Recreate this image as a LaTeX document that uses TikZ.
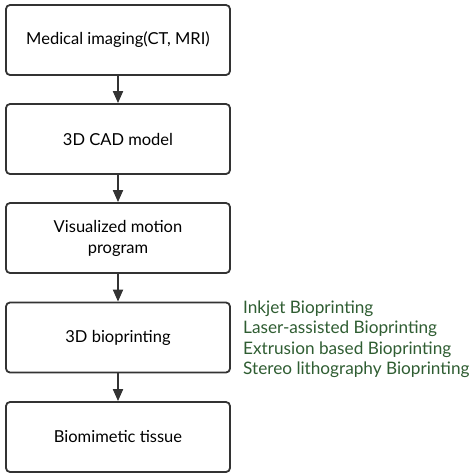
\documentclass[tikz,border=0pt]{standalone}
\usepackage{fontspec}
\setmainfont{Lato}
\usetikzlibrary{arrows.meta}
\definecolor{boxline}{HTML}{333333}
\definecolor{methodgreen}{HTML}{2F5D32}
\begin{document}
\begin{tikzpicture}[x=1pt, y=-1pt, >={Triangle[length=12pt, width=10pt]}]
		\useasboundingbox (0, 0) rectangle (474, 475);
		\begin{scope}[every node/.append style={draw=boxline, line width=1.8pt, rounded corners=4pt, minimum width=224pt, minimum height=70pt, align=center, font=\fontsize{16.5}{21}\selectfont}]
			\node (img) at (118, 40) {Medical imaging(CT, MRI)};
			\node (cad) at (118, 139) {3D CAD model};
			\node (prog) at (118, 238) {Visualized motion\\program};
			\node (print) at (118, 337.5) {3D bioprinting};
			\node (tissue) at (118, 437) {Biomimetic tissue};
		\end{scope}

		\node (methods) [anchor = west, align = left, text = methodgreen, inner sep = 0pt, font = \fontsize{17.2}{20.5}\selectfont] at (243, 339) {Inkjet Bioprinting\\Laser-assisted Bioprinting\\Extrusion based Bioprinting\\Stereo lithography Bioprinting};

		\draw [->, boxline, line width=1.8pt] (img) -- (cad);
		\draw [->, boxline, line width=1.8pt] (cad) -- (prog);
		\draw [->, boxline, line width=1.8pt] (prog) -- (print);
		\draw [->, boxline, line width=1.8pt] (print) -- (tissue);
	\end{tikzpicture}
\end{document}
